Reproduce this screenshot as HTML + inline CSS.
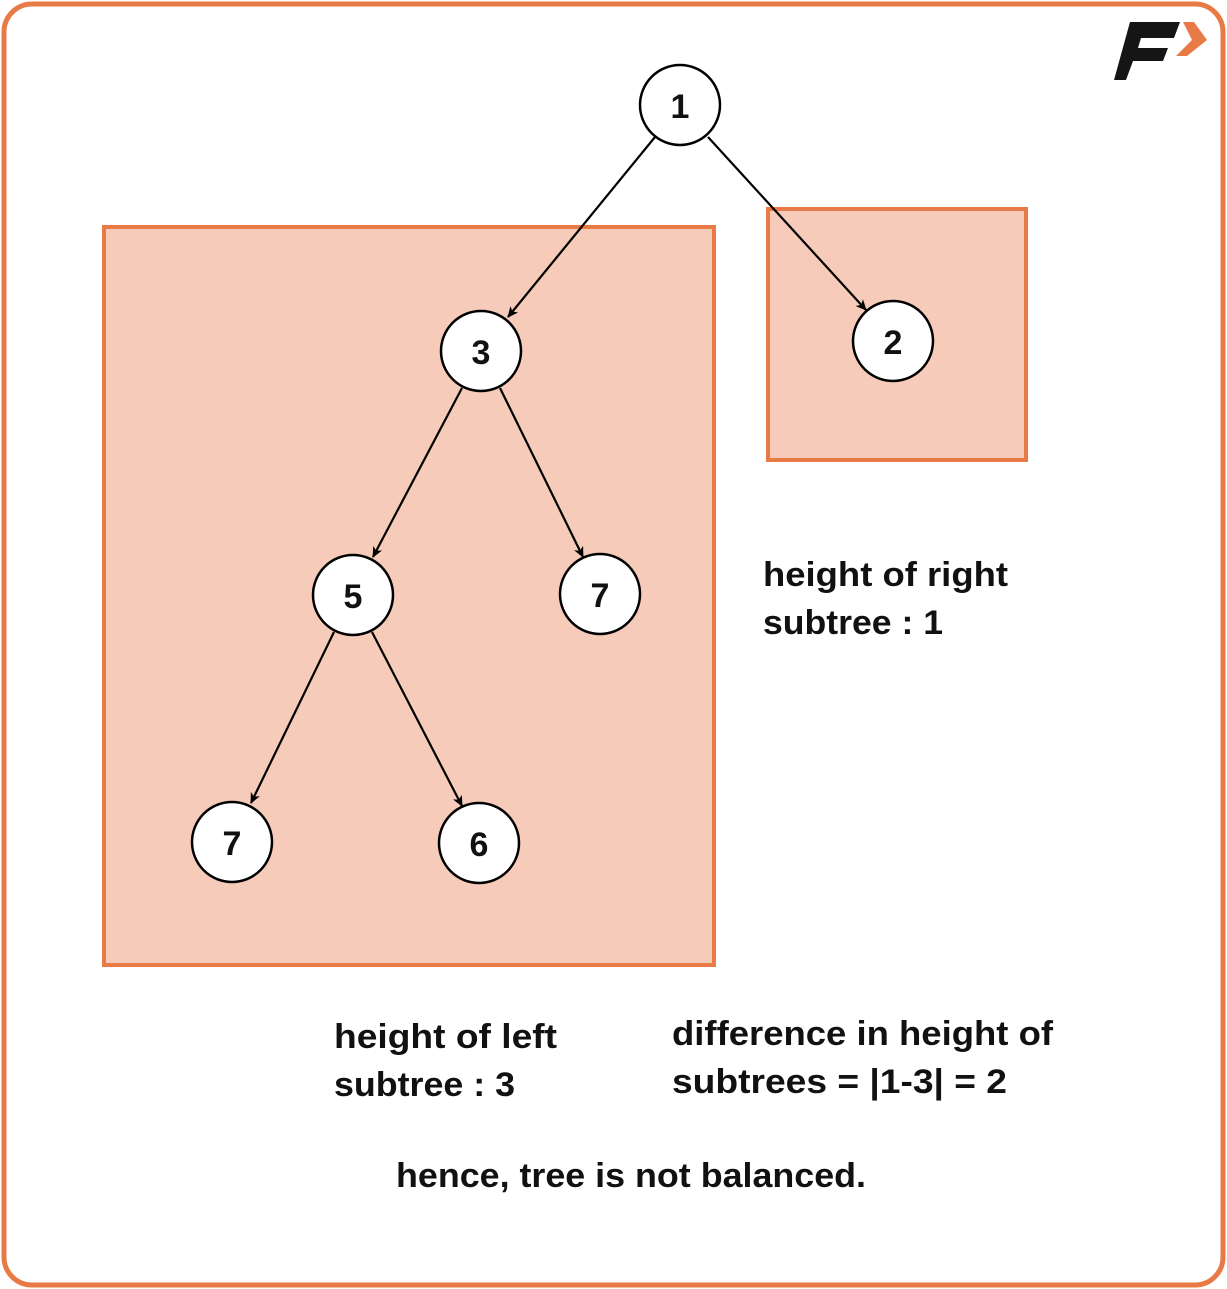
<!DOCTYPE html>
<html><head><style>
html,body{margin:0;padding:0;background:#fff;}
svg{display:block;}
text{font-family:"Liberation Sans",sans-serif;font-weight:bold;fill:#111;}
</style></head><body>
<svg width="1227" height="1289" viewBox="0 0 1227 1289" xmlns="http://www.w3.org/2000/svg">
<defs><marker id="a" markerWidth="12" markerHeight="12" refX="10" refY="5" orient="auto" markerUnits="userSpaceOnUse"><path d="M0,0 L11,5 L0,10 L3,5 Z" fill="#000"/></marker></defs>
<rect x="4" y="4" width="1219" height="1281" rx="28" fill="#fff" stroke="#E87A45" stroke-width="5"/>
<path d="M1130,22 L1180,22 L1174,38 L1141,38 L1138,48 L1168,48 L1163,61 L1133,61 L1126,80 L1114,80 Z" fill="#151515"/>
<path d="M1183,22 L1194,22 L1207,40 L1187,56 L1176,56 L1192,40 Z" fill="#E87A45"/>
<rect x="104" y="227" width="610" height="738" fill="#F6CBB9" stroke="#E87A45" stroke-width="4"/>
<rect x="768" y="209" width="258" height="251" fill="#F6CBB9" stroke="#E87A45" stroke-width="4"/>
<g stroke="#000" stroke-width="2.2" marker-end="url(#a)">
<line x1="655" y1="137" x2="508" y2="317"/>
<line x1="708" y1="137" x2="866" y2="310"/>
<line x1="462" y1="388" x2="373" y2="557"/>
<line x1="500" y1="388" x2="583" y2="557"/>
<line x1="334" y1="632" x2="251" y2="803"/>
<line x1="372" y1="632" x2="462" y2="806"/>
</g>
<g fill="#fff" stroke="#000" stroke-width="2.5">
<circle cx="680" cy="105" r="40"/><circle cx="481" cy="351" r="40"/><circle cx="893" cy="341" r="40"/>
<circle cx="353" cy="595" r="40"/><circle cx="600" cy="594" r="40"/><circle cx="232" cy="842" r="40"/><circle cx="479" cy="843" r="40"/>
</g>
<g font-size="34" text-anchor="middle">
<text x="680" y="118">1</text><text x="481" y="364">3</text><text x="893" y="354">2</text>
<text x="353" y="608">5</text><text x="600" y="607">7</text><text x="232" y="855">7</text><text x="479" y="856">6</text>
</g>
<g font-size="34" lengthAdjust="spacingAndGlyphs">
<text x="763" y="586" textLength="245" lengthAdjust="spacingAndGlyphs">height of right</text>
<text x="763" y="634" textLength="180" lengthAdjust="spacingAndGlyphs">subtree : 1</text>
<text x="334" y="1048" textLength="223" lengthAdjust="spacingAndGlyphs">height of left</text>
<text x="334" y="1096" textLength="181" lengthAdjust="spacingAndGlyphs">subtree : 3</text>
<text x="672" y="1045" textLength="381" lengthAdjust="spacingAndGlyphs">difference in height of</text>
<text x="672" y="1093" textLength="335" lengthAdjust="spacingAndGlyphs">subtrees = |1-3| = 2</text>
<text x="396" y="1187" textLength="470" lengthAdjust="spacingAndGlyphs">hence, tree is not balanced.</text>
</g>
</svg>
</body></html>
